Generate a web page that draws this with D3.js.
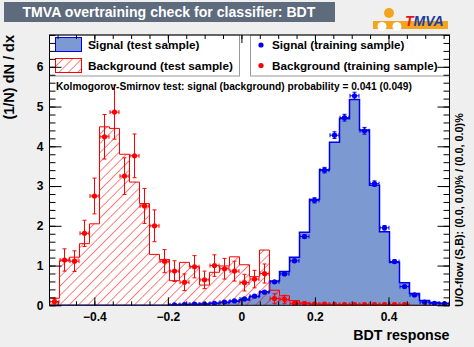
<!DOCTYPE html>
<html>
<head>
<meta charset="utf-8">
<script src="https://cdn.jsdelivr.net/npm/d3@7/dist/d3.min.js"></script>
<style>
  html, body { margin: 0; padding: 0; background: #efefef; }
  svg { display: block; }
  text { font-family: "Liberation Sans", Arial, Helvetica, sans-serif; font-weight: bold; }
</style>
</head>
<body>
<svg id="chart" width="474" height="347"></svg>
<script>
// ---- data: BDT response, 40 equal-width bins ----
const xRange = [-0.522, 0.566];
const nBins = 40;

// signal, test sample (filled histogram)
const sigTest = [0,0,0,0,0,0,0,0,0,0,0,0,
  0.01,0.02,0.02,0.03,0.05,0.07,0.10,0.14,0.22,0.34,0.61,0.85,1.21,1.84,
  2.66,3.41,4.10,4.70,5.18,4.41,3.02,1.85,1.08,0.57,0.30,0.12,0.07,0.05];

// background, test sample (hatched histogram)
const bgTest = [0.18,1.12,1.21,1.55,2.05,4.49,4.45,3.80,3.10,2.56,1.28,1.15,
  0.62,1.08,0.97,0.51,0.83,0.99,1.22,1.02,0.72,1.39,0.38,0.24,0.12,0.06,
  0.03,0.02,0.02,0.01,0.01,0.01,0.01,0.01,0.01,0.01,0,0,0,0];

// signal, training sample (points) and their errors
const sigTrain = [null,null,null,null,null,null,null,null,null,null,null,null,
  0.01,0.02,0.03,0.03,0.05,0.08,0.11,0.16,0.23,0.33,0.59,0.79,1.12,1.73,
  2.64,3.40,4.28,4.72,5.27,4.39,3.06,1.95,1.10,0.47,0.26,0.08,0.05,0.04];
const sigTrainErr = [0,0,0,0,0,0,0,0,0,0,0,0,
  0.01,0.01,0.01,0.01,0.01,0.012,0.015,0.018,0.02,0.025,0.03,0.035,0.045,0.05,
  0.065,0.07,0.085,0.085,0.09,0.085,0.07,0.055,0.045,0.03,0.02,0.012,0.01,0.01];

// background, training sample (points) and their errors
const bgTrain = [0.09,1.14,1.11,1.81,2.75,4.24,4.86,3.25,3.76,2.50,2.00,1.11,
  0.86,0.58,0.97,0.64,1.00,0.92,0.86,0.57,0.66,0.80,0.17,0.15,0.05,0.04,
  0.03,0.03,0.02,0.02,0.02,0.02,0.02,0.02,0.02,0.02,null,null,null,null];
const bgTrainErr = [0.08,0.28,0.26,0.33,0.45,0.56,0.68,0.46,0.55,0.44,0.40,0.29,
  0.26,0.21,0.28,0.22,0.27,0.26,0.25,0.21,0.22,0.24,0.12,0.10,0.06,0.05,
  0.03,0.03,0.03,0.03,0.03,0.03,0.03,0.03,0.03,0.03,0,0,0,0];

const yTicks = [0,1,2,3,4,5,6];
const xTicks = [-0.4,-0.2,0,0.2,0.4];

const titleText = "TMVA overtraining check for classifier: BDT";
const ksText = "Kolmogorov-Smirnov test: signal (background) probability = 0.041 (0.049)";
const flowText = "U/O-flow (S,B): (0.0, 0.0)% / (0.0, 0.0)%";
const legendLeft = ["Signal (test sample)", "Background (test sample)"];
const legendRight = ["Signal (training sample)", "Background (training sample)"];

// ---- layout ----
const frame = {left: 49.5, right: 449.5, top: 35, bottom: 305.3};
const sigFill = "#7d99d1", sigLine = "#0000ee", bgLine = "#ff0000";

const svg = d3.select("#chart");
const x = d3.scaleLinear().domain(xRange).range([frame.left, frame.right]);
const y = d3.scaleLinear().domain([0, 6.8]).range([frame.bottom, frame.top]);
const bw = (xRange[1] - xRange[0]) / nBins;
const lowEdge = i => xRange[0] + i * bw;
const center = i => xRange[0] + (i + 0.5) * bw;

const defs = svg.append("defs");
defs.append("clipPath").attr("id", "frameClip")
  .append("rect")
  .attr("x", frame.left).attr("y", frame.top)
  .attr("width", frame.right - frame.left).attr("height", frame.bottom - frame.top);

const hatch = defs.append("pattern").attr("id", "hatch")
  .attr("patternUnits", "userSpaceOnUse")
  .attr("width", 6.6).attr("height", 6.6)
  .attr("patternTransform", "rotate(45)");
hatch.append("line").attr("x1", 0).attr("y1", 0).attr("x2", 0).attr("y2", 6.6)
  .attr("stroke", bgLine).attr("stroke-width", 1);

// canvas background
svg.append("rect").attr("width", 474).attr("height", 347).attr("fill", "#efefef");

// title box
svg.append("rect").attr("x", 4).attr("y", 2).attr("width", 331).attr("height", 20)
  .attr("fill", "#5d6b7d");
svg.append("text").attr("x", 22.5).attr("y", 17.2).attr("fill", "#ffffff")
  .attr("font-size", 14.1).text(titleText);

// TMVA logo
const logo = svg.append("g");
logo.append("rect").attr("x", 373).attr("y", 21).attr("width", 75).attr("height", 8).attr("fill", "#f5a41e");
logo.append("circle").attr("cx", 389).attr("cy", 13).attr("r", 5).attr("fill", "#f5a41e");
logo.append("circle").attr("cx", 382).attr("cy", 26.5).attr("r", 4.5).attr("fill", "#ffffff");
logo.append("circle").attr("cx", 397).attr("cy", 26.5).attr("r", 4.5).attr("fill", "#ffffff");
const logoText = logo.append("text").attr("x", 405).attr("y", 26).attr("font-size", 14)
  .attr("font-style", "italic");
logoText.append("tspan").attr("fill", "#e0141e").text("T");
logoText.append("tspan").attr("fill", "#1c3e9c").text("MVA");

// frame interior
svg.append("rect").attr("x", frame.left).attr("y", frame.top)
  .attr("width", frame.right - frame.left).attr("height", frame.bottom - frame.top)
  .attr("fill", "#ffffff");

const plot = svg.append("g").attr("clip-path", "url(#frameClip)");

// step outline points for a histogram
function steps(vals) {
  const pts = [[xRange[0], 0]];
  vals.forEach((v, i) => { pts.push([lowEdge(i), v]); pts.push([lowEdge(i + 1), v]); });
  pts.push([xRange[1], 0]);
  return pts;
}
const area = d3.area().x(d => x(d[0])).y0(y(0)).y1(d => y(d[1]));
const line = d3.line().x(d => x(d[0])).y(d => y(d[1]));

// signal test histogram
plot.append("path").attr("d", area(steps(sigTest))).attr("fill", sigFill);
plot.append("path").attr("d", line(steps(sigTest))).attr("fill", "none")
  .attr("stroke", sigLine).attr("stroke-width", 1.5);

// background test histogram (hatched)
plot.append("path").attr("d", area(steps(bgTest))).attr("fill", "url(#hatch)");
plot.append("path").attr("d", line(steps(bgTest))).attr("fill", "none")
  .attr("stroke", bgLine).attr("stroke-width", 1);

// training points with error bars
function drawPoints(vals, errs, color) {
  const g = plot.append("g").attr("stroke", color).attr("fill", color).attr("stroke-width", 1);
  vals.forEach((v, i) => {
    if (v === null) return;
    const cx = x(center(i)), cy = y(v);
    const xl = x(lowEdge(i)) + 0.5, xr = x(lowEdge(i + 1)) - 0.5;
    const yl = y(Math.max(0, v - errs[i])), yh = y(v + errs[i]);
    g.append("line").attr("x1", xl).attr("x2", xr).attr("y1", cy).attr("y2", cy);
    g.append("line").attr("x1", xl).attr("x2", xl).attr("y1", cy - 2).attr("y2", cy + 2);
    g.append("line").attr("x1", xr).attr("x2", xr).attr("y1", cy - 2).attr("y2", cy + 2);
    if (yl - yh > 1) {
      g.append("line").attr("x1", cx).attr("x2", cx).attr("y1", yl).attr("y2", yh);
      g.append("line").attr("x1", cx - 2).attr("x2", cx + 2).attr("y1", yl).attr("y2", yl);
      g.append("line").attr("x1", cx - 2).attr("x2", cx + 2).attr("y1", yh).attr("y2", yh);
    }
    g.append("circle").attr("cx", cx).attr("cy", cy).attr("r", 2.6).attr("stroke", "none");
  });
}
drawPoints(sigTrain, sigTrainErr, sigLine);
drawPoints(bgTrain, bgTrainErr, bgLine);

// K-S test text
svg.append("text").attr("x", 56).attr("y", 90).attr("font-size", 10.2).attr("fill", "#000").text(ksText);

// legends
function legendBox(x0, x1) {
  svg.append("rect").attr("x", x0).attr("y", frame.top).attr("width", x1 - x0).attr("height", 41)
    .attr("fill", "#ffffff").attr("stroke", "#999999").attr("stroke-width", 1);
}
legendBox(frame.left, 239.5);
legendBox(250.5, frame.right);

svg.append("rect").attr("x", 55.5).attr("y", 37.5).attr("width", 26).attr("height", 14)
  .attr("fill", sigFill).attr("stroke", sigLine).attr("stroke-width", 1);
svg.append("rect").attr("x", 55.5).attr("y", 58.5).attr("width", 26).attr("height", 14)
  .attr("fill", "url(#hatch)").attr("stroke", bgLine).attr("stroke-width", 1);
svg.append("text").attr("x", 88).attr("y", 49).attr("font-size", 11.8).text(legendLeft[0]);
svg.append("text").attr("x", 88).attr("y", 69.5).attr("font-size", 11.8).text(legendLeft[1]);

svg.append("circle").attr("cx", 261).attr("cy", 45).attr("r", 2.6).attr("fill", sigLine);
svg.append("circle").attr("cx", 261).attr("cy", 65.5).attr("r", 2.6).attr("fill", bgLine);
svg.append("text").attr("x", 272).attr("y", 49).attr("font-size", 11.7).text(legendRight[0]);
svg.append("text").attr("x", 272).attr("y", 69.5).attr("font-size", 11.7).text(legendRight[1]);

// axes
const yMinor = d3.range(0, 6.81, 0.2);
const xMinor = d3.range(-0.5, 0.566, 0.05);
const fmtX = d => Math.abs(d) < 1e-9 ? "0" : d3.format(".1f")(d);

function styleAxis(g) {
  g.select(".domain").remove();
  g.selectAll("line").attr("stroke", "#000");
  g.selectAll("text").attr("font-size", 12).attr("fill", "#000")
    .attr("font-family", "'Liberation Sans', Arial, sans-serif").attr("font-weight", "bold");
}

svg.append("g").attr("transform", `translate(${frame.left},0)`)
  .call(d3.axisLeft(y).tickValues(yMinor).tickSize(-6).tickFormat("")).call(styleAxis);
svg.append("g").attr("transform", `translate(${frame.left},0)`)
  .call(d3.axisLeft(y).tickValues(yTicks).tickSize(-12).tickPadding(6).tickFormat(d3.format("d")))
  .call(styleAxis);
svg.append("g").attr("transform", `translate(${frame.right},0)`)
  .call(d3.axisRight(y).tickValues(yMinor).tickSize(-6).tickFormat("")).call(styleAxis);
svg.append("g").attr("transform", `translate(${frame.right},0)`)
  .call(d3.axisRight(y).tickValues(yTicks).tickSize(-12).tickFormat("")).call(styleAxis);

svg.append("g").attr("transform", `translate(0,${frame.bottom})`)
  .call(d3.axisBottom(x).tickValues(xMinor).tickSize(-4).tickFormat("")).call(styleAxis);
svg.append("g").attr("transform", `translate(0,${frame.bottom})`)
  .call(d3.axisBottom(x).tickValues(xTicks).tickSize(-8).tickPadding(7.5).tickFormat(fmtX))
  .call(styleAxis);
svg.append("g").attr("transform", `translate(0,${frame.top})`)
  .call(d3.axisTop(x).tickValues(xMinor).tickSize(-4).tickFormat("")).call(styleAxis);
svg.append("g").attr("transform", `translate(0,${frame.top})`)
  .call(d3.axisTop(x).tickValues(xTicks).tickSize(-8).tickFormat("")).call(styleAxis);

// frame border
svg.append("rect").attr("x", frame.left).attr("y", frame.top)
  .attr("width", frame.right - frame.left).attr("height", frame.bottom - frame.top)
  .attr("fill", "none").attr("stroke", "#000").attr("stroke-width", 1);

// axis titles
svg.append("text").attr("x", frame.right).attr("y", 340).attr("text-anchor", "end")
  .attr("font-size", 14.2).text("BDT response");
svg.append("text").attr("transform", `translate(14,${frame.top}) rotate(-90)`)
  .attr("text-anchor", "end").attr("font-size", 14.5).text("(1/N) dN / dx");

// under/overflow note
svg.append("text").attr("transform", `translate(462.5,307) rotate(-90)`)
  .attr("font-size", 10.8).text(flowText);
</script>
</body>
</html>
